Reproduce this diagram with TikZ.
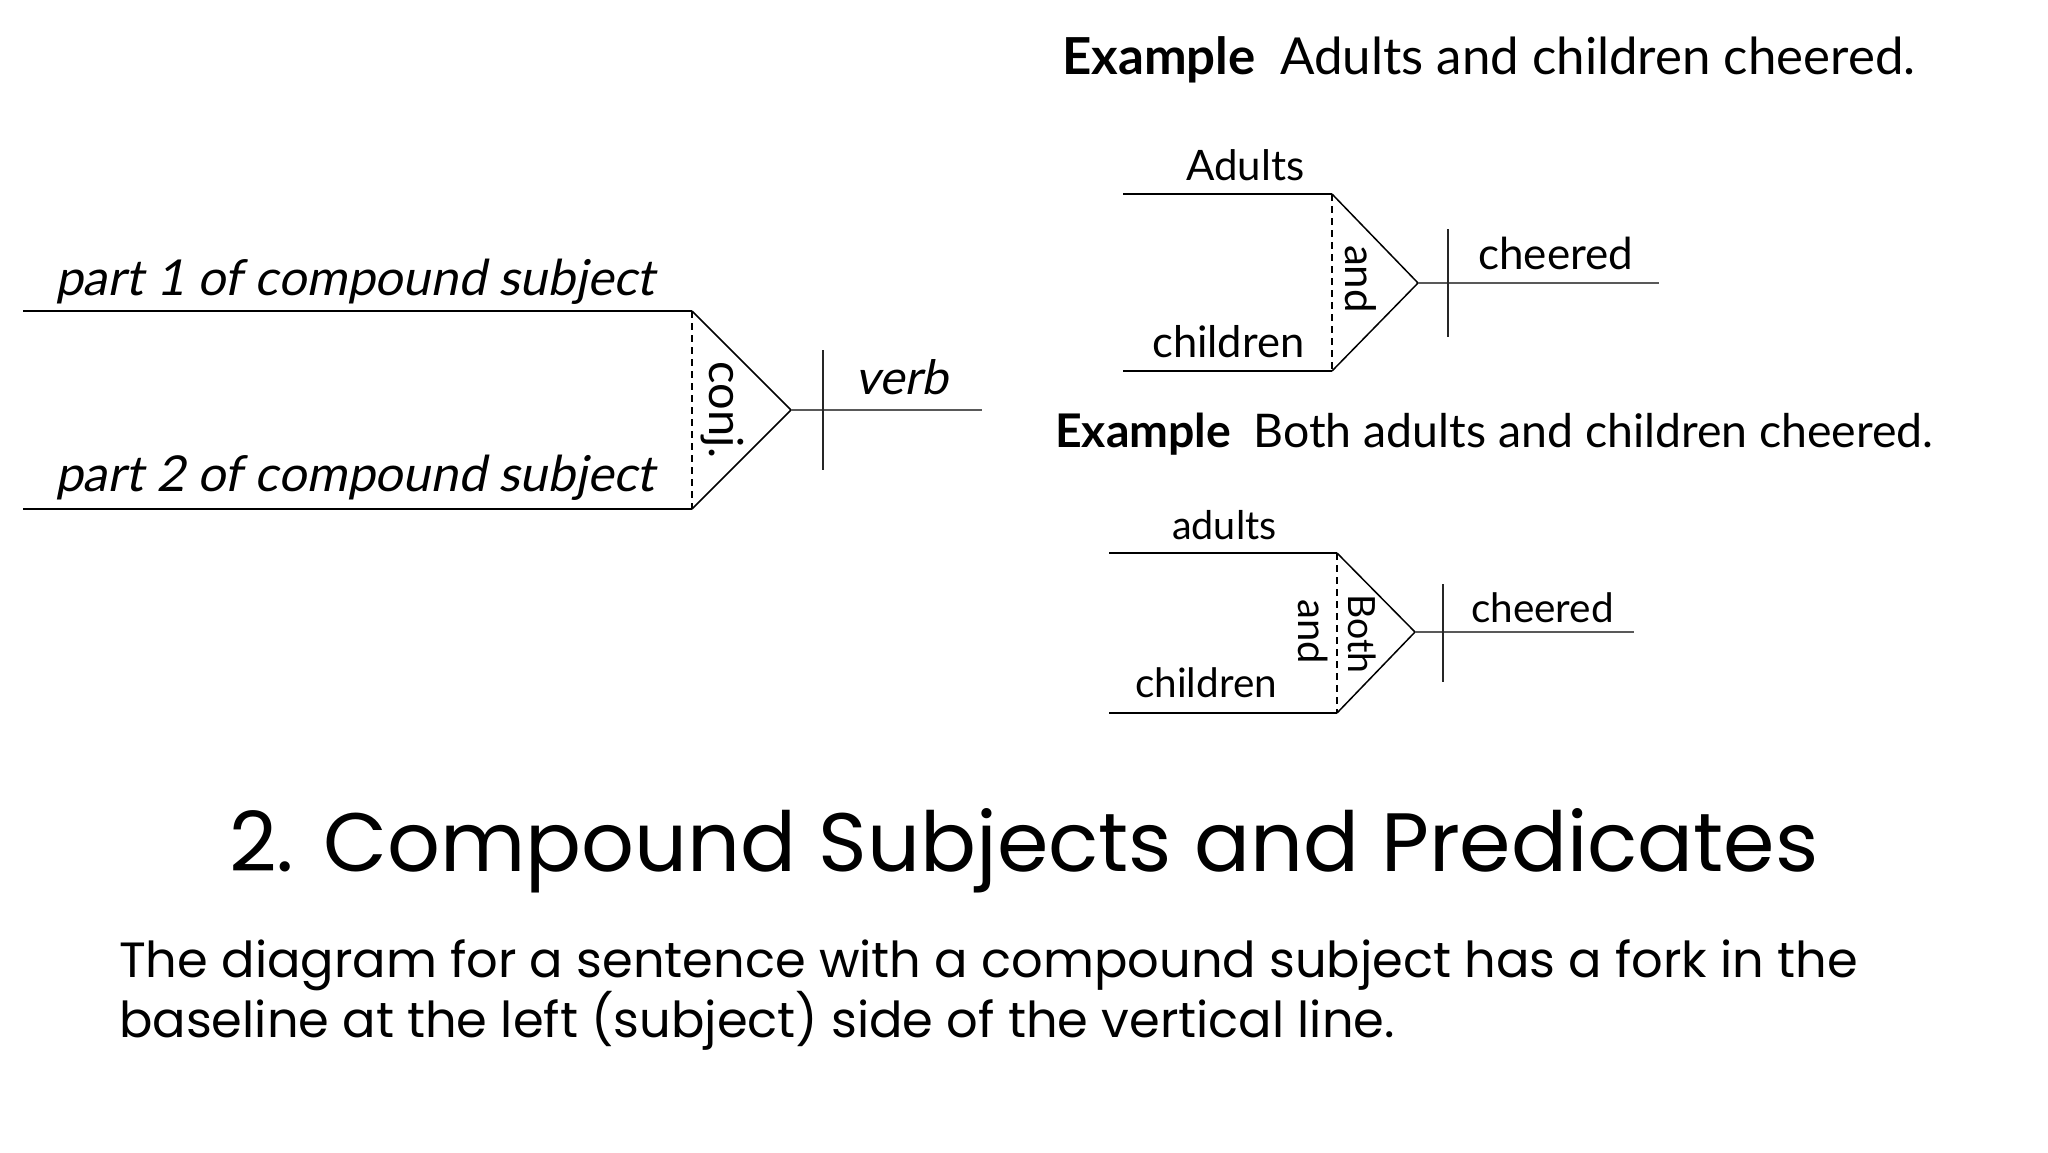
\documentclass[tikz,border=0pt]{standalone}
\usepackage{fontspec}
\setmainfont{Poppins}
\newfontfamily\lab{Lato}
\newfontfamily\labit[FakeSlant=0.2]{Lato}
\begin{document}
\begin{tikzpicture}[x=1pt,y=-1pt,
  baseln/.style={line width=2.4pt,black},
  forkln/.style={line width=1.5pt,black},
  conjln/.style={line width=1.5pt,black,dash pattern=on 7pt off 5pt},
  stemln/.style={line width=2.2pt,black!65},
  vertln/.style={line width=2pt,black!85},
  lbl/.style={inner sep=0pt,anchor=base west,font=\lab\fontsize{42}{50}\selectfont},
  lblb/.style={inner sep=0pt,anchor=base west,font=\lab\fontsize{40.5}{48}\selectfont},
  lblit/.style={inner sep=0pt,anchor=base west,font=\labit\fontsize{49.5}{56}\selectfont},
  rot/.style={inner sep=0pt,anchor=base,rotate=-90,font=\lab\fontsize{40}{48}\selectfont},
  exhead/.style={inner sep=0pt,anchor=base west}]
\useasboundingbox (0,0) rectangle (2048,1152);
\fill[white] (0,0) rectangle (2048,1152);

% ---------- left general diagram ----------
\coordinate (a1) at (23,311);
\coordinate (a2) at (692,311);
\coordinate (b1) at (23,509);
\coordinate (b2) at (692,509);
\coordinate (ap) at (791,410);
\coordinate (ve) at (982,410);
\coordinate (vt) at (823,350);
\coordinate (vb) at (823,470);
\draw[baseln] (a1) -- (a2);
\draw[baseln] (b1) -- (b2);
\draw[forkln] (a2) -- (ap) -- (b2);
\draw[conjln] (a2) -- (b2);
\draw[stemln] (ap) -- (ve);
\draw[vertln] (vt) -- (vb);
\node[lblit] (p1) at (55,295) {part 1 of compound subject};
\node[lblit] (p2) at (55,491) {part 2 of compound subject};
\node[lblit,font=\labit\fontsize{47.5}{54}\selectfont] (vb1) at (855,394) {verb};
\node[rot,font=\lab\fontsize{47}{54}\selectfont] (cj) at (709,410) {conj.};

% ---------- example 1 ----------
\node[exhead,font=\lab\fontsize{51}{60}\selectfont] (ex1) at (1062,74) {\bfseries Example\ \ \mdseries Adults and children cheered.};
\coordinate (c1) at (1123,194);
\coordinate (c2) at (1332,194);
\coordinate (d1) at (1123,371);
\coordinate (d2) at (1332,371);
\coordinate (cp) at (1418,283);
\coordinate (ce) at (1659,283);
\coordinate (ct) at (1448,229);
\coordinate (cb) at (1448,337);
\draw[baseln] (c1) -- (c2);
\draw[baseln] (d1) -- (d2);
\draw[forkln] (c2) -- (cp) -- (d2);
\draw[conjln] (c2) -- (d2);
\draw[stemln] (cp) -- (ce);
\draw[vertln] (ct) -- (cb);
\node[lbl] (w1) at (1186,180) {Adults};
\node[lbl,font=\lab\fontsize{43.5}{50}\selectfont] (w2) at (1152,357) {children};
\node[lbl,font=\lab\fontsize{44}{50}\selectfont] (w3) at (1478,269) {cheered};
\node[rot,font=\lab\fontsize{42}{50}\selectfont] (w4) at (1345,279) {and};

% ---------- example 2 ----------
\node[exhead,font=\lab\fontsize{46.4}{54}\selectfont] (ex2) at (1055,447) {\bfseries Example\ \ \mdseries Both adults and children cheered.};
\coordinate (e1) at (1109,553);
\coordinate (e2) at (1337,553);
\coordinate (f1) at (1109,713);
\coordinate (f2) at (1337,713);
\coordinate (ep) at (1415,632);
\coordinate (ee) at (1634,632);
\coordinate (et) at (1443,584);
\coordinate (eb) at (1443,682);
\draw[baseln] (e1) -- (e2);
\draw[baseln] (f1) -- (f2);
\draw[forkln] (e2) -- (ep) -- (f2);
\draw[conjln] (e2) -- (f2);
\draw[stemln] (ep) -- (ee);
\draw[vertln] (et) -- (eb);
\node[lblb,font=\lab\fontsize{39.5}{48}\selectfont] (x1) at (1172,539) {adults};
\node[lblb] (x2) at (1135,697) {children};
\node[lblb] (x3) at (1471,622) {cheered};
\node[rot,font=\lab\fontsize{37.5}{46}\selectfont] (x4) at (1348,634) {Both};
\node[rot,font=\lab\fontsize{40}{46}\selectfont] (x5) at (1298,632) {and};

% ---------- title and text ----------
\node[inner sep=0pt,anchor=base west,font=\fontsize{82.8}{100}\selectfont] (title) at (229,871) {2. Compound Subjects and Predicates};
\node[inner sep=0pt,anchor=base west,font=\fontsize{49.5}{60}\selectfont] (t1) at (119,977) {The diagram for a sentence with a compound subject has a fork in the};
\node[inner sep=0pt,anchor=base west,font=\fontsize{49.5}{60}\selectfont] (t2) at (119,1037) {baseline at the left (subject) side of the vertical line.};
\end{tikzpicture}
\end{document}
